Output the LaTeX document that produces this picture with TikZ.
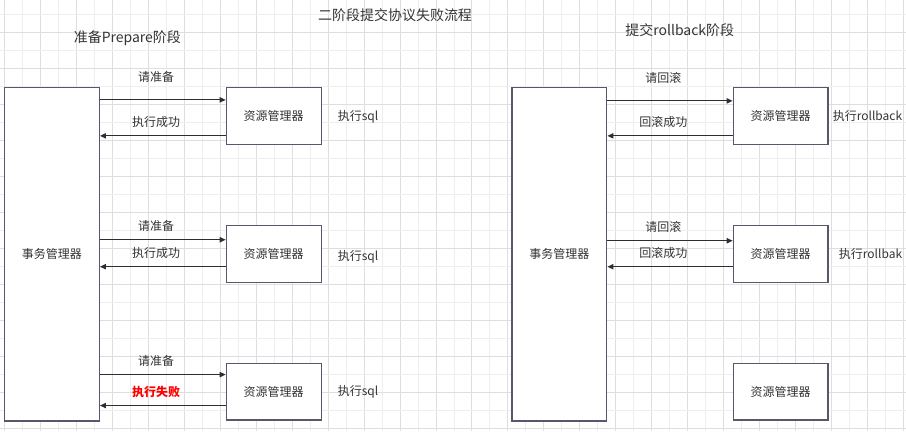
\documentclass[tikz,border=0pt]{standalone}
\usepackage{fontspec}
\setmainfont{Noto Sans CJK SC}
\usetikzlibrary{arrows.meta}
\usetikzlibrary{calc}
\definecolor{gridlight}{RGB}{238,238,238}
\definecolor{griddark}{RGB}{222,222,222}
\definecolor{boxline}{RGB}{88,88,108}
\definecolor{txt}{RGB}{51,51,51}

\begin{document}
\begin{tikzpicture}[x=0.75pt, y=-0.75pt,
    every node/.style={text=txt, font=\fontsize{9}{11}\selectfont},
    box/.style={draw=boxline, fill=white, line width=0.9pt, inner sep=0pt,
        minimum width=71.25pt, minimum height=42.75pt},
    bigbox/.style={box, minimum height=250.5pt},
    msg/.style={draw=txt!90!black, line width=0.8pt, -{Triangle[length=4.5pt, width=4pt]}},
    msglabel/.style={above=5.5pt, inner sep=0pt, xshift=-5pt},
    title/.style={font=\fontsize{10.5}{12}\selectfont}
    ]

    % grid
    \fill[white] (0,0) rectangle (906,431);
    \foreach \k in {0,...,50}{
        \pgfmathsetmacro{\gx}{4+18*\k}
        \ifodd\k \def\gc{gridlight}\else \def\gc{griddark}\fi
        \draw[\gc, line width=0.75pt] (\gx,0) -- (\gx,431);
    }
    \foreach \k in {0,...,23}{
        \pgfmathsetmacro{\gy}{14+18*\k}
        \ifodd\k \def\gc{griddark}\else \def\gc{gridlight}\fi
        \draw[\gc, line width=0.75pt] (0,\gy) -- (906,\gy);
    }
    \useasboundingbox (0,0) rectangle (906,431);

    % titles
    \node[title] (title) at (395,15) {二阶段提交协议失败流程};
    \node[title] (prep) at (127,38) {准备Prepare阶段};
    \node[title] (roll) at (680,30) {提交rollback阶段};

    % prepare phase
    \node[bigbox] (tm1) at (51.5,254) {事务管理器};

    \node[box] (rm11) at (273.5,115.5) {资源管理器};
    \node[box] (rm12) at (273.5,253.5) {资源管理器};
    \node[box] (rm13) at (273.5,391.5) {资源管理器};

    \node (sql11) at (358,116) {执行sql};
    \node (sql12) at (358,257) {执行sql};
    \node (sql13) at (358,392) {执行sql};

    \coordinate (q11) at ($(rm11.west)+(0,-16)$);
    \coordinate (a11) at ($(rm11.west)+(0,20)$);
    \coordinate (q12) at ($(rm12.west)+(0,-14)$);
    \coordinate (a12) at ($(rm12.west)+(0,13)$);
    \coordinate (q13) at ($(rm13.west)+(0,-17)$);
    \coordinate (a13) at ($(rm13.west)+(0,14)$);

    \draw[msg] (tm1.east |- q11) -- node[msglabel, above=7pt] {请准备} (q11);
    \draw[msg] (a11) -- node[msglabel] {执行成功} (tm1.east |- a11);
    \draw[msg] (tm1.east |- q12) -- node[msglabel] {请准备} (q12);
    \draw[msg] (a12) -- node[msglabel] {执行成功} (tm1.east |- a12);
    \draw[msg] (tm1.east |- q13) -- node[msglabel] {请准备} (q13);
    \draw[msg] (a13) -- node[msglabel, text=red, font=\fontsize{9}{11}\selectfont\bfseries] {执行失败} (tm1.east |- a13);

    % rollback phase
    \node[bigbox] (tm2) at (559.5,254) {事务管理器};

    \node[box] (rm21) at (781,115.5) {资源管理器};
    \node[box] (rm22) at (781,253.5) {资源管理器};
    \node[box] (rm23) at (781,391.5) {资源管理器};

    \node (rb21) at (868,116) {执行rollback};
    \node (rb22) at (871,254) {执行rollbak};

    \coordinate (q21) at ($(rm21.west)+(0,-15)$);
    \coordinate (a21) at ($(rm21.west)+(0,20)$);
    \coordinate (q22) at ($(rm22.west)+(0,-13)$);
    \coordinate (a22) at ($(rm22.west)+(0,13)$);

    \draw[msg] (tm2.east |- q21) -- node[msglabel, above=7pt] {请回滚} (q21);
    \draw[msg] (a21) -- node[msglabel] {回滚成功} (tm2.east |- a21);
    \draw[msg] (tm2.east |- q22) -- node[msglabel] {请回滚} (q22);
    \draw[msg] (a22) -- node[msglabel] {回滚成功} (tm2.east |- a22);

\end{tikzpicture}
\end{document}
